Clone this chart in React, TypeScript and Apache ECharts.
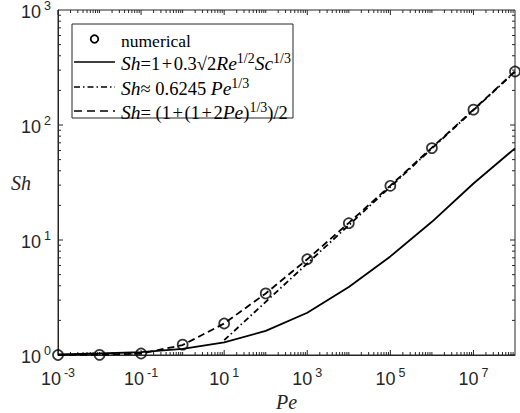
import React, { useEffect, useRef } from 'react';
import * as echarts from 'echarts';

// ---- data ----
const peValues = [1e-3, 1e-2, 1e-1, 1, 10, 1e2, 1e3, 1e4, 1e5, 1e6, 1e7, 1e8];
const numericalSh = [1.0, 1.003, 1.03, 1.23, 1.88, 3.43, 6.8, 14.0, 29.6, 63, 136, 292];
const correlationSh = [1.01, 1.03, 1.06, 1.13, 1.29, 1.62, 2.33, 3.9, 7.2, 14.4, 31, 62.7];
const asymptoticPe = [10, 1e2, 1e3, 1e4, 1e5, 1e6, 1e7, 1e8];
const asymptoticSh = [1.345, 2.9, 6.25, 13.45, 29.0, 62.5, 134.5, 290];
const fullSh = [1.0003, 1.003, 1.03, 1.22, 1.88, 3.43, 6.8, 14.1, 29.7, 63.5, 136, 293];

// ---- tick labels ----
const xTickLabels = [1e-3, 1e-1, 1e1, 1e3, 1e5, 1e7];
const yTickLabels = [1e0, 1e1, 1e2, 1e3];
const xDecades = [-3, -2, -1, 0, 1, 2, 3, 4, 5, 6, 7];
const yDecades = [0, 1, 2];
const mantissas = [1, 2, 3, 4, 5, 6, 7, 8, 9];

const X_MIN = 1e-3;
const X_MAX = 1e8;
const Y_MIN = 1;
const Y_MAX = 1000;

const AX = '#262626';
const HS = '\u200A'; // hair space

const isMajor = (list: number[], v: number) =>
  list.some((m) => Math.abs(Math.log10(m) - Math.log10(v)) < 1e-9);

export default function App() {
  const ref = useRef<HTMLDivElement>(null);

  useEffect(() => {
    if (!ref.current) return;
    const chart = echarts.init(ref.current, undefined, { renderer: 'svg' });

    const xTickData: number[][] = [];
    xDecades.forEach((d) =>
      mantissas.forEach((m) => {
        const v = m * Math.pow(10, d);
        xTickData.push([v, Y_MIN, isMajor(xTickLabels, v) ? 5 : 3]);
      })
    );
    const yTickData: number[][] = [];
    yDecades.forEach((d) =>
      mantissas.forEach((m) => {
        const v = m * Math.pow(10, d);
        yTickData.push([X_MIN, v, isMajor(yTickLabels, v) ? 5 : 3]);
      })
    );

    const labelRich = {
      b: {
        fontFamily: 'Liberation Sans',
        fontSize: 18,
        color: AX,
        lineHeight: 22,
        verticalAlign: 'bottom',
      },
      s: {
        fontFamily: 'Liberation Sans',
        fontSize: 12.5,
        color: AX,
        lineHeight: 22,
        verticalAlign: 'top',
        padding: [0, 0, 0, 3],
      },
    };
    const fmt = (v: number) => `{b|10}{s|${Math.round(Math.log10(v))}}`;

    const legendRich = {
      i: { fontFamily: 'Liberation Serif', fontStyle: 'italic', fontSize: 19.5, lineHeight: 22, verticalAlign: 'bottom', fill: '#000' },
      n: { fontFamily: 'Liberation Serif', fontSize: 18.5, lineHeight: 22, verticalAlign: 'bottom', fill: '#000' },
      m: { fontFamily: 'Liberation Serif', fontSize: 17.5, lineHeight: 22, verticalAlign: 'bottom', fill: '#000' },
      p: { fontFamily: 'Liberation Serif', fontSize: 14, lineHeight: 22, verticalAlign: 'top', fill: '#000' },
    };

    const lx0 = 74;
    const lx1 = 115;
    const tx = 121;
    const rows = [39, 62, 87, 111];

    const option: any = {
      animation: false,
      backgroundColor: '#fff',
      grid: {
        left: 58,
        right: 5,
        top: 10,
        bottom: 58,
        containLabel: false,
        outerBoundsMode: 'none',
        show: true,
        borderColor: AX,
        borderWidth: 1,
        backgroundColor: '#fff',
      },
      xAxis: {
        type: 'log',
        logBase: 10,
        min: X_MIN,
        max: X_MAX,
        name: 'Pe',
        nameLocation: 'middle',
        nameGap: 37,
        nameMoveOverlap: false,
        nameTextStyle: {
          fontFamily: 'Liberation Serif',
          fontStyle: 'italic',
          fontSize: 20,
          color: AX,
        },
        axisLine: { show: true, lineStyle: { color: AX, width: 1 } },
        axisTick: { show: false },
        splitLine: { show: false },
        minorTick: { show: false },
        axisLabel: {
          customValues: xTickLabels,
          margin: 11,
          formatter: fmt,
          rich: labelRich,
        },
      },
      yAxis: {
        type: 'log',
        logBase: 10,
        min: Y_MIN,
        max: Y_MAX,
        name: 'Sh',
        nameLocation: 'middle',
        nameRotate: 0,
        nameGap: 27,
        nameMoveOverlap: false,
        nameTextStyle: {
          fontFamily: 'Liberation Serif',
          fontStyle: 'italic',
          fontSize: 20,
          color: AX,
        },
        axisLine: { show: true, lineStyle: { color: AX, width: 1 } },
        axisTick: { show: false },
        splitLine: { show: false },
        minorTick: { show: false },
        axisLabel: {
          customValues: yTickLabels,
          margin: 7,
          formatter: fmt,
          rich: labelRich,
        },
      },
      series: [
        {
          name: 'xticks',
          type: 'custom',
          coordinateSystem: 'cartesian2d',
          silent: true,
          z: 1,
          data: xTickData,
          encode: { x: 0, y: 1 },
          renderItem: (_p: any, api: any) => {
            const v = api.value(0);
            const len = api.value(2);
            const b = api.coord([v, Y_MIN]);
            const t = api.coord([v, Y_MAX]);
            const st = { stroke: AX, lineWidth: 1 };
            return {
              type: 'group',
              children: [
                { type: 'line', shape: { x1: b[0], y1: b[1], x2: b[0], y2: b[1] - len }, style: st },
                { type: 'line', shape: { x1: t[0], y1: t[1], x2: t[0], y2: t[1] + len }, style: st },
              ],
            };
          },
        },
        {
          name: 'yticks',
          type: 'custom',
          coordinateSystem: 'cartesian2d',
          silent: true,
          z: 1,
          data: yTickData,
          encode: { x: 0, y: 1 },
          renderItem: (_p: any, api: any) => {
            const v = api.value(1);
            const len = api.value(2);
            const l = api.coord([X_MIN, v]);
            const r = api.coord([X_MAX, v]);
            const st = { stroke: AX, lineWidth: 1 };
            return {
              type: 'group',
              children: [
                { type: 'line', shape: { x1: l[0], y1: l[1], x2: l[0] + len, y2: l[1] }, style: st },
                { type: 'line', shape: { x1: r[0], y1: r[1], x2: r[0] - len, y2: r[1] }, style: st },
              ],
            };
          },
        },
        {
          name: 'Sh=1+0.3√2Re^1/2Sc^1/3',
          type: 'line',
          symbol: 'none',
          z: 3,
          lineStyle: { color: '#000', width: 1.8, type: 'solid' },
          data: peValues.map((p, i) => [p, correlationSh[i]]),
        },
        {
          name: 'Sh≈0.6245Pe^1/3',
          type: 'line',
          symbol: 'none',
          z: 3,
          lineStyle: { color: '#000', width: 1.8, type: [6, 3, 1.5, 3] },
          data: asymptoticPe.map((p, i) => [p, asymptoticSh[i]]),
        },
        {
          name: 'Sh=(1+(1+2Pe)^1/3)/2',
          type: 'line',
          symbol: 'none',
          z: 3,
          lineStyle: { color: '#000', width: 1.8, type: [7, 4] },
          data: peValues.map((p, i) => [p, fullSh[i]]),
        },
        {
          name: 'numerical',
          type: 'scatter',
          symbol: 'circle',
          symbolSize: 10,
          z: 4,
          itemStyle: { color: 'rgba(0,0,0,0)', borderColor: '#000', borderWidth: 1.7 },
          data: peValues.map((p, i) => [p, numericalSh[i]]),
        },
      ],
      graphic: [
        {
          type: 'group',
          z: 100,
          children: [
            {
              type: 'rect',
              shape: { x: 72, y: 24, width: 221, height: 94 },
              style: { fill: '#fff', stroke: AX, lineWidth: 1 },
            },
            {
              type: 'circle',
              shape: { cx: (lx0 + lx1) / 2, cy: rows[0], r: 3.8 },
              style: { fill: 'none', stroke: '#000', lineWidth: 1.8 },
            },
            {
              type: 'line',
              shape: { x1: lx0, y1: rows[1], x2: lx1, y2: rows[1] },
              style: { stroke: '#000', lineWidth: 1.7 },
            },
            {
              type: 'line',
              shape: { x1: lx0, y1: rows[2], x2: lx1, y2: rows[2] },
              style: { stroke: '#000', lineWidth: 1.7, lineDash: [6, 3, 1.5, 3] },
            },
            {
              type: 'line',
              shape: { x1: lx0, y1: rows[3], x2: lx1, y2: rows[3] },
              style: { stroke: '#000', lineWidth: 1.7, lineDash: [8, 5] },
            },
            {
              type: 'text',
              x: tx,
              y: rows[0],
              style: { text: '{m|numerical}', rich: legendRich, verticalAlign: 'middle' },
            },
            {
              type: 'text',
              x: tx,
              y: rows[1],
              style: {
                text: `{i|Sh}{n|=1${HS}+${HS}0.3√2}{i|Re}{p|1/2}{i|Sc}{p|1/3}`,
                rich: legendRich,
                verticalAlign: 'middle',
              },
            },
            {
              type: 'text',
              x: tx,
              y: rows[2],
              style: {
                text: '{i|Sh}{n|≈ 0.6245 }{i|Pe}{p|1/3}',
                rich: legendRich,
                verticalAlign: 'middle',
              },
            },
            {
              type: 'text',
              x: tx,
              y: rows[3],
              style: {
                text: `{i|Sh}{n|= (1${HS}+${HS}(1${HS}+${HS}2}{i|Pe}{n|)}{p|1/3}{n|)/2}`,
                rich: legendRich,
                verticalAlign: 'middle',
              },
            },
          ],
        },
      ],
    };

    chart.setOption(option);
    return () => chart.dispose();
  }, []);

  return (
    <div
      ref={ref}
      style={{ position: 'absolute', left: 0, top: 0, width: 520, height: 413 }}
    />
  );
}
